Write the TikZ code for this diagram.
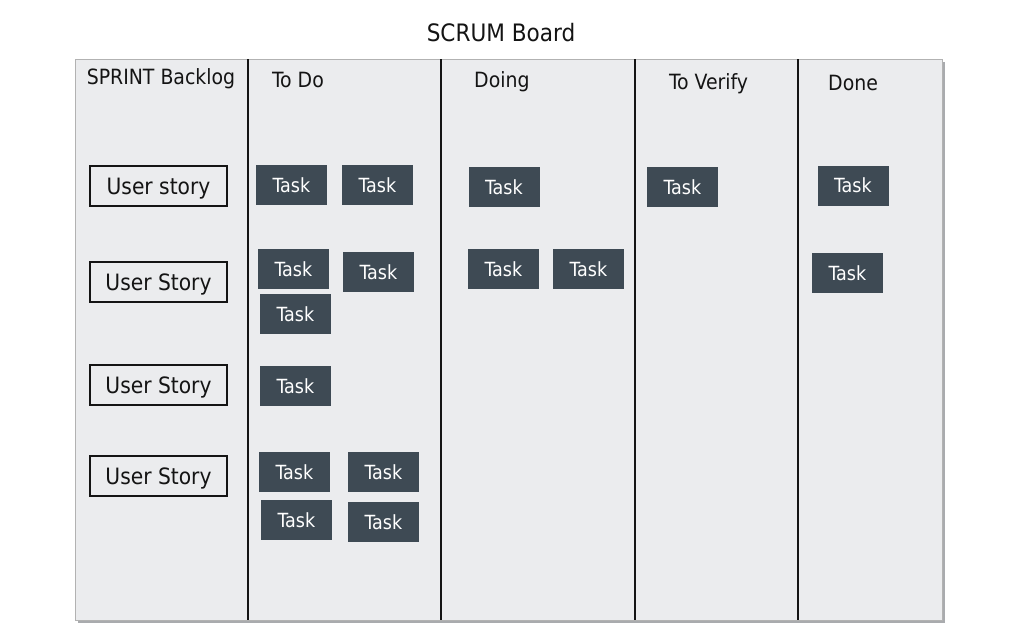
\documentclass[tikz,border=0pt]{standalone}
\usepackage{fontspec}
\setmainfont{DejaVu Sans Condensed}
\definecolor{boardbg}{HTML}{EBECEE}
\definecolor{taskbg}{HTML}{3E4A54}
\definecolor{shadow}{HTML}{A9ABAE}
\definecolor{ink}{HTML}{141414}
\begin{document}
\begin{tikzpicture}[x=1pt,y=-1pt,
  task/.style={fill=taskbg,text=white,minimum width=71pt,minimum height=40pt,inner sep=0pt,font=\fontsize{19.5}{19.5}\selectfont},
  story/.style={draw=ink,line width=1.2pt,fill=boardbg,text=ink,minimum width=137pt,minimum height=40pt,inner sep=0pt,text depth=0pt,font=\fontsize{22.5}{22.5}\selectfont},
  head/.style={anchor=west,inner sep=0pt,text=ink,font=\fontsize{21}{21}\selectfont},
  divider/.style={line width=1.5pt,ink}]
\useasboundingbox (0,0) rectangle (1024,632);
\fill[white] (0,0) rectangle (1024,632);
% board
\fill[shadow] (78,62) rectangle (945,623);
\draw[fill=boardbg,draw=gray!60] (75,59) rectangle (942,620);
\node[text=ink,font=\fontsize{24}{24}\selectfont] (title) at (501,33) {SCRUM Board};
% dividers
\foreach \x/\n in {248/d1,441/d2,635/d3,798/d4}{
  \coordinate (\n t) at (\x,59);
  \coordinate (\n b) at (\x,620);
  \draw[divider] (\n t) -- (\n b);
}
% headers
\node[inner sep=0pt,text=ink,font=\fontsize{21}{21}\selectfont] (hsb) at (161,79) {SPRINT Backlog};
\node[head] (htd) at (272,80) {To Do};
\node[head] (hdo) at (474,82) {Doing};
\node[head] (htv) at (669,84) {To Verify};
\node[head] (hdn) at (828,83) {Done};
% stories
\node[story] (s1) at (158.5,186) {User story};
\node[story] (s2) at (158.5,282) {User Story};
\node[story] (s3) at (158.5,385) {User Story};
\node[story] (s4) at (158.5,476) {User Story};
% tasks
\node[task] (t1) at (291.5,185) {Task};
\node[task] (t2) at (377.5,185) {Task};
\node[task] (t3) at (504,187) {Task};
\node[task] (t4) at (682.5,187) {Task};
\node[task] (t5) at (853,185.5) {Task};
\node[task] (t6) at (293.5,269) {Task};
\node[task] (t7) at (378.5,272) {Task};
\node[task] (t8) at (295.5,314) {Task};
\node[task] (t9) at (503.5,269) {Task};
\node[task] (t10) at (588.5,269) {Task};
\node[task] (t11) at (847.5,273) {Task};
\node[task] (t12) at (295.5,386) {Task};
\node[task] (t13) at (294.5,472) {Task};
\node[task] (t14) at (383.5,472) {Task};
\node[task] (t15) at (296.5,520) {Task};
\node[task] (t16) at (383.5,522) {Task};
\end{tikzpicture}
\end{document}
